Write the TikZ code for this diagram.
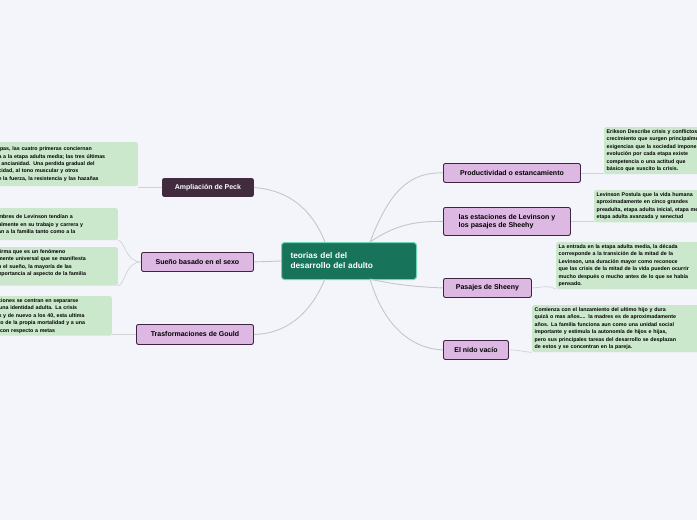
\documentclass[tikz,border=0pt]{standalone}
\usepackage{fontspec}
\setmainfont{Liberation Sans}
\definecolor{lav}{HTML}{DDB8E3}
\definecolor{lavd}{HTML}{3E2440}
\definecolor{peck}{HTML}{402B3F}
\definecolor{teal1}{HTML}{17735A}
\definecolor{tealb}{HTML}{6FD6B4}
\definecolor{notec}{HTML}{CBE8CC}
\definecolor{bg}{HTML}{F3F5FB}
\begin{document}
\begin{tikzpicture}[x=1pt,y=-1pt,
 main/.style={draw=lavd,fill=lav,line width=0.9pt,rounded corners=2pt,font=\bfseries\fontsize{7}{8.5}\selectfont,inner sep=3pt,align=left,anchor=north west},
 note/.style={fill=notec,rounded corners=2pt,font=\bfseries\fontsize{5.3}{7.4}\selectfont,inner sep=2.5pt,align=left,anchor=north west},
 con/.style={draw=gray!45,line width=0.9pt},
 lk/.style={draw=gray!35,line width=0.7pt}]
\useasboundingbox[fill=bg] (0,0) rectangle (697,520);
\node[draw=tealb,fill=teal1,text=white,line width=1pt,rounded corners=3pt,font=\bfseries\fontsize{8.3}{10}\selectfont,align=left,minimum width=135pt,minimum height=37pt,text width=117pt,anchor=north west,inner xsep=9pt] (c) at (281,242) {teorias del del\\desarrollo del adulto};
\node[main,minimum width=137pt,minimum height=19pt] (p) at (443,163) {Productividad o estancamiento};
\node[main,minimum width=127pt,minimum height=28pt] (l) at (443,207) {las estaciones de Levinson y\\los pasajes de Sheehy};
\node[main,minimum width=88pt,minimum height=19pt] (s) at (443,278) {Pasajes de Sheeny};
\node[main,minimum width=65pt,minimum height=19pt] (n) at (443,340) {El nido vacío};
\node[main,fill=peck,draw=peck,text=white,minimum width=91pt,minimum height=18pt] (pk) at (162,178) {Ampliación de Peck};
\node[main,minimum width=112pt,minimum height=19pt] (sx) at (141,252) {Sueño basado en el sexo};
\node[main,minimum width=117pt,minimum height=20pt] (g) at (136,324) {Trasformaciones de Gould};
\node[note,text width=170pt,minimum height=44pt] (n1) at (604,127) {Erikson Describe crisis y conflictos de\\crecimiento que surgen principalmente de las\\exigencias que la sociedad impone\\evolución por cada etapa existe\\competencia o una actitud que\\básico que suscito la crisis.};
\node[note,text width=170pt,minimum height=32pt] (n2) at (594,190) {Levinson Postula que la vida humana\\aproximadamente en cinco grandes\\preadulta, etapa adulta inicial, etapa media\\etapa adulta avanzada y senectud};
\node[note,text width=190pt,minimum height=47pt] (n3) at (556,242) {La entrada en la etapa adulta media, la década\\corresponde a la transición de la mitad de la\\Levinson, una duración mayor como reconoce\\que las crisis de la mitad de la vida pueden ocurrir\\mucho después o mucho antes de lo que se había\\pensado.};
\node[note,text width=200pt,minimum height=47pt] (n4) at (532,305) {Comienza con el lanzamiento del ultimo hijo y dura\\quizá o mas años.... la madres es de aproximadamente\\años. La familia funciona aun como una unidad social\\importante y estimula la autonomía de hijos e hijas,\\pero sus principales tareas del desarrollo se desplazan\\de estos y se concentran en la pareja.};
\node[note,text width=140pt,minimum height=44pt,anchor=north east] (m1) at (138,142) {tapas, las cuatro primeras conciernan\\da a la etapa adulta media; las tres últimas\\ la ancianidad. Una perdida gradual del\\ticidad, al tono muscular y otros\\ de la fuerza, la resistencia y las hazañas};
\node[note,text width=120pt,minimum height=32pt,anchor=north east] (m2) at (118,208) {ombres de Levinson tendían a\\palmente en su trabajo y carrera y\\ean a la familia tanto como a la};
\node[note,text width=120pt,minimum height=38pt,anchor=north east] (m3) at (118,247) {afirma que es un fenómeno\\amente universal que se manifiesta\\en el sueño, la mayoría de las\\ importancia al aspecto de la familia\\.};
\node[note,text width=114pt,minimum height=38pt,anchor=north east] (m4) at (112,296) {aciones se centran en separarse\\r una identidad adulta. La crisis\\os y de nuevo a los 40, esta ultima\\nto de la propia mortalidad y a una\\s con respecto a metas};
\coordinate (cr) at (370,242);
\coordinate (crb) at (370,279);
\draw[con] (cr) .. controls (390,190) and (410,172) .. (p.west);
\draw[con] (cr) .. controls (395,225) and (415,221) .. (l.west);
\draw[con] (crb) .. controls (395,285) and (420,287) .. (s.west);
\draw[con] (crb) .. controls (385,330) and (415,349) .. (n.west);
\coordinate (cl) at (325,242);
\coordinate (clb) at (325,279);
\draw[con] (cl) .. controls (310,205) and (285,190) .. (pk.east);
\draw[con] (c.west) -- (sx.east);
\draw[con] (clb) .. controls (310,315) and (285,334) .. (g.east);
\draw[lk] (p.east) -- (n1.west|-p.east);
\draw[lk] (l.east) -- (n2.west|-l.east);
\draw[lk] (s.east) .. controls (545,287) and (550,285) .. (n3.south west);
\draw[lk] (n.east) .. controls (520,350) and (525,352) .. (n4.south west);
\draw[lk] (pk.west) -- (m1.east|-pk.west);
\draw[lk] (sx.west) .. controls (125,262) and (125,240) .. (m2.south east);
\draw[lk] (sx.west) .. controls (125,262) and (125,285) .. (m3.south east);
\draw[lk] (g.west) -- (m4.east|-g.west);
\end{tikzpicture}
\end{document}
